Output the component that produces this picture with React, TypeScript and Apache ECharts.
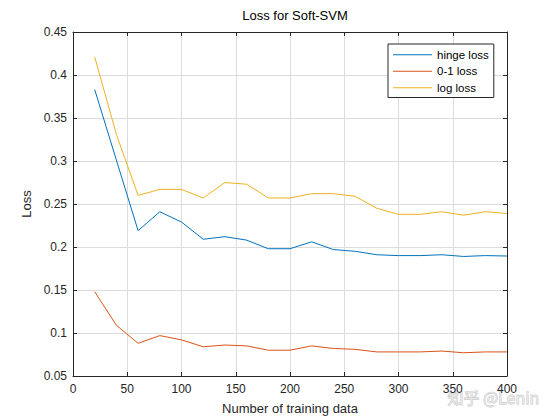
import React, { useEffect, useRef } from "react";
import * as echarts from "echarts";

const trainingSizes = [20, 40, 60, 80, 100, 120, 140, 160, 180, 200, 220, 240, 260, 280, 300, 320, 340, 360, 380, 400];
const hingeLoss = [0.383, 0.301, 0.219, 0.241, 0.229, 0.209, 0.212, 0.208, 0.198, 0.198, 0.206, 0.197, 0.195, 0.191, 0.190, 0.190, 0.191, 0.189, 0.190, 0.1895];
const zeroOneLoss = [0.148, 0.109, 0.088, 0.097, 0.092, 0.084, 0.086, 0.085, 0.080, 0.080, 0.085, 0.082, 0.081, 0.078, 0.078, 0.078, 0.079, 0.077, 0.078, 0.078];
const logLoss = [0.421, 0.331, 0.260, 0.267, 0.267, 0.257, 0.275, 0.273, 0.257, 0.257, 0.262, 0.262, 0.259, 0.245, 0.238, 0.238, 0.241, 0.237, 0.241, 0.239];
const seriesNames = ["hinge loss", "0-1 loss", "log loss"];
const seriesColors = ["#0072BD", "#D95319", "#EDB120"];

const FONT = "'Liberation Sans', Arial, Helvetica, sans-serif";
const INK = "#262626";

export default function App() {
  const ref = useRef<HTMLDivElement>(null);
  useEffect(() => {
    if (!ref.current) return;
    const chart = echarts.init(ref.current, undefined, { renderer: "svg" });
    const pair = (vals: number[]) => trainingSizes.map((x, i) => [x, vals[i]]);
    const allSeries = [hingeLoss, zeroOneLoss, logLoss];
    const baseX = {
      type: "value",
      min: 0,
      max: 400,
      interval: 50,
      axisLine: { show: true, onZero: false, lineStyle: { color: INK, width: 1 } },
      axisTick: { show: true, inside: true, length: 4, lineStyle: { color: INK } },
      splitLine: { show: false },
    };
    const baseY = {
      type: "value",
      min: 0.05,
      max: 0.45,
      interval: 0.05,
      axisLine: { show: true, onZero: false, lineStyle: { color: INK, width: 1 } },
      axisTick: { show: true, inside: true, length: 4, lineStyle: { color: INK } },
      splitLine: { show: false },
    };
    chart.setOption({
      animation: false,
      backgroundColor: "#ffffff",
      textStyle: { fontFamily: FONT },
      title: {
        text: "Loss for Soft-SVM",
        left: 290,
        top: 4,
        textAlign: "center",
        textStyle: { fontFamily: FONT, fontSize: 13, fontWeight: "normal", color: "#000" },
      },
      grid: { left: 73, right: 53, top: 32, bottom: 44, containLabel: false },
      legend: {
        data: seriesNames.map((name) => ({ name, icon: "rect" })),
        orient: "vertical",
        left: 388,
        top: 44,
        itemWidth: 39,
        itemHeight: 1.2,
        itemGap: 3,
        padding: [4, 5, 3, 5],
        backgroundColor: "#ffffff",
        borderColor: "#262626",
        borderWidth: 1,
        borderRadius: 0,
        textStyle: { fontFamily: FONT, fontSize: 11.5, color: "#000", lineHeight: 13.5 },
      },
      xAxis: [
        {
          ...baseX,
          position: "bottom",
          name: "Number of training data",
          nameLocation: "middle",
          nameGap: 26,
          nameTextStyle: { fontFamily: FONT, fontSize: 13, color: INK },
          axisLabel: { show: true, margin: 7, fontFamily: FONT, fontSize: 12, color: INK },
          splitLine: { show: true, lineStyle: { color: "#dcdcdc", width: 1 } },
        },
        { ...baseX, position: "top", axisLabel: { show: false } },
      ],
      yAxis: [
        {
          ...baseY,
          position: "left",
          name: "Loss",
          nameLocation: "middle",
          nameGap: 36,
          nameTextStyle: { fontFamily: FONT, fontSize: 13, color: INK },
          axisLabel: {
            show: true,
            margin: 6,
            fontFamily: FONT,
            fontSize: 12,
            color: INK,
            formatter: (v: number) => String(parseFloat(v.toFixed(2))),
          },
          splitLine: { show: true, lineStyle: { color: "#dcdcdc", width: 1 } },
        },
        { ...baseY, position: "right", axisLabel: { show: false } },
      ],
      series: seriesNames.map((name, i) => ({
        name,
        type: "line",
        xAxisIndex: 0,
        yAxisIndex: 0,
        data: pair(allSeries[i]),
        symbol: "none",
        showSymbol: false,
        lineStyle: { color: seriesColors[i], width: 1 },
        itemStyle: { color: seriesColors[i] },
      })),
      graphic: [
        {
          type: "text",
          left: 447,
          top: 389,
          silent: true,
          style: {
            text: "知乎 @Lenin",
            fontFamily: "'Noto Sans CJK SC', 'Noto Sans', sans-serif",
            fontSize: 16,
            fill: "rgba(235,235,235,0.85)",
            stroke: "#c4c4c4",
            lineWidth: 0.8,
          },
        },
      ],
    });
    return () => chart.dispose();
  }, []);
  return (
    <div
      ref={ref}
      style={{ position: "absolute", left: 0, top: 0, width: 560, height: 420 }}
    />
  );
}
